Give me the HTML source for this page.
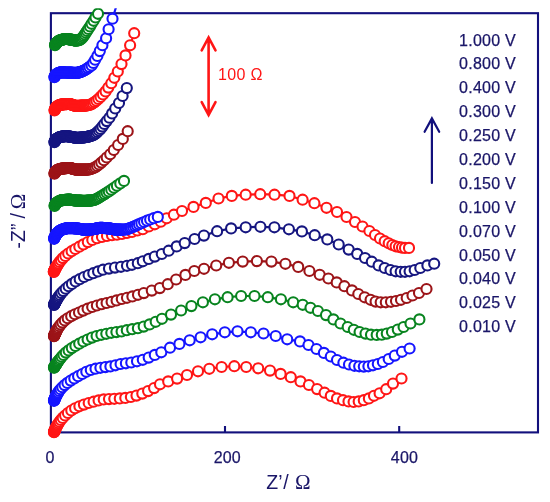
<!DOCTYPE html>
<html lang="en"><head><meta charset="utf-8"><title>Nyquist plots</title>
<style>
html,body{margin:0;padding:0;background:#fff;}
body{width:550px;height:502px;overflow:hidden;}
svg{display:block;}
text{font-family:"Liberation Sans",Arial,Helvetica,sans-serif;}
.ser{font-family:"Liberation Serif","Times New Roman",serif;}
</style></head><body>
<svg width="550" height="502" viewBox="0 0 550 502">
<rect width="550" height="502" fill="#fff"/>
<defs><clipPath id="cp"><rect x="0" y="8.2" width="550" height="494"/></clipPath></defs>

<g fill="none" stroke="#12107c" stroke-width="2.1">
<rect x="50.9" y="13.2" width="487.1" height="419.2"/>
<path d="M225 432.5V426M399.2 432.5V426"/>
</g>
<g clip-path="url(#cp)" fill="#fff" stroke-width="2.1">
<g stroke="#ff1616">
<polyline fill="none" stroke-width="2.2" points="54,432.2 54.1,431.9 54.2,431.6 54.3,431.3 54.5,431 54.6,430.6 54.8,430.3 54.9,429.9 55.1,429.5 55.3,429 55.5,428.6 55.8,428.1 56,427.6 56.3,427 56.7,426.4 57.1,425.5 57.7,424.5 58.5,423.3 59.5,421.8 60.8,420 62.7,417.9 65.1,415.5 67.9,413 71.3,410.5 75.1,408.3 79.4,406.3 83.9,404.6 88.7,403 93.6,401.7 98.6,400.4 103.7,399.4 109,399.1 114.3,398.8 119.8,398.4 125.3,397.9 130.9,397 136.5,395.6 142.3,393.6 148.1,391.1 154.1,388.1 160,384.3 168.2,381.4 177.1,378.6 187,375 198,371.3 209.3,368.8 221.6,367 234.3,366.2 246.2,367 258.2,368.3 270,370.6 280.6,373.9 290.8,377.2 300.5,381.4 308.9,385 317.1,389.1 324.6,392.7 330.8,395.9 337,398.4 343,400.2 348.5,401.4 353.6,402 358.7,401.4 363.8,400.2 368.9,398.4 374,395.8 379.6,393.3 386.2,389.2 393,383.6 401.5,378.5"/>
<circle cx="54" cy="432.2" r="5.05"/><circle cx="54.1" cy="431.9" r="5.05"/><circle cx="54.2" cy="431.6" r="5.05"/><circle cx="54.3" cy="431.3" r="5.05"/><circle cx="54.5" cy="431" r="5.05"/><circle cx="54.6" cy="430.6" r="5.05"/><circle cx="54.8" cy="430.3" r="5.05"/><circle cx="54.9" cy="429.9" r="5.05"/><circle cx="55.1" cy="429.5" r="5.05"/><circle cx="55.3" cy="429" r="5.05"/><circle cx="55.5" cy="428.6" r="5.05"/><circle cx="55.8" cy="428.1" r="5.05"/><circle cx="56" cy="427.6" r="5.05"/><circle cx="56.3" cy="427" r="5.05"/><circle cx="56.7" cy="426.4" r="5.05"/><circle cx="57.1" cy="425.5" r="5.05"/><circle cx="57.7" cy="424.5" r="5.05"/><circle cx="58.5" cy="423.3" r="5.05"/><circle cx="59.5" cy="421.8" r="5.05"/><circle cx="60.8" cy="420" r="5.05"/><circle cx="62.7" cy="417.9" r="5.05"/><circle cx="65.1" cy="415.5" r="5.05"/><circle cx="67.9" cy="413" r="5.05"/><circle cx="71.3" cy="410.5" r="5.05"/><circle cx="75.1" cy="408.3" r="5.05"/><circle cx="79.4" cy="406.3" r="5.05"/><circle cx="83.9" cy="404.6" r="5.05"/><circle cx="88.7" cy="403" r="5.05"/><circle cx="93.6" cy="401.7" r="5.05"/><circle cx="98.6" cy="400.4" r="5.05"/><circle cx="103.7" cy="399.4" r="5.05"/><circle cx="109" cy="399.1" r="5.05"/><circle cx="114.3" cy="398.8" r="5.05"/><circle cx="119.8" cy="398.4" r="5.05"/><circle cx="125.3" cy="397.9" r="5.05"/><circle cx="130.9" cy="397" r="5.05"/><circle cx="136.5" cy="395.6" r="5.05"/><circle cx="142.3" cy="393.6" r="5.05"/><circle cx="148.1" cy="391.1" r="5.05"/><circle cx="154.1" cy="388.1" r="5.05"/><circle cx="160" cy="384.3" r="5.05"/><circle cx="168.2" cy="381.4" r="5.05"/><circle cx="177.1" cy="378.6" r="5.05"/><circle cx="187" cy="375" r="5.05"/><circle cx="198" cy="371.3" r="5.05"/><circle cx="209.3" cy="368.8" r="5.05"/><circle cx="221.6" cy="367" r="5.05"/><circle cx="234.3" cy="366.2" r="5.05"/><circle cx="246.2" cy="367" r="5.05"/><circle cx="258.2" cy="368.3" r="5.05"/><circle cx="270" cy="370.6" r="5.05"/><circle cx="280.6" cy="373.9" r="5.05"/><circle cx="290.8" cy="377.2" r="5.05"/><circle cx="300.5" cy="381.4" r="5.05"/><circle cx="308.9" cy="385" r="5.05"/><circle cx="317.1" cy="389.1" r="5.05"/><circle cx="324.6" cy="392.7" r="5.05"/><circle cx="330.8" cy="395.9" r="5.05"/><circle cx="337" cy="398.4" r="5.05"/><circle cx="343" cy="400.2" r="5.05"/><circle cx="348.5" cy="401.4" r="5.05"/><circle cx="353.6" cy="402" r="5.05"/><circle cx="358.7" cy="401.4" r="5.05"/><circle cx="363.8" cy="400.2" r="5.05"/><circle cx="368.9" cy="398.4" r="5.05"/><circle cx="374" cy="395.8" r="5.05"/><circle cx="379.6" cy="393.3" r="5.05"/><circle cx="386.2" cy="389.2" r="5.05"/><circle cx="393" cy="383.6" r="5.05"/><circle cx="401.5" cy="378.5" r="5.05"/>
</g>
<g stroke="#1616ff">
<polyline fill="none" stroke-width="2.2" points="54,400.8 54.1,400.5 54.2,400.2 54.3,400 54.4,399.6 54.6,399.3 54.7,399 54.9,398.6 55,398.2 55.2,397.8 55.4,397.3 55.6,396.9 55.9,396.4 56.1,395.9 56.5,395.2 56.9,394.5 57.5,393.5 58.2,392.4 59.2,390.9 60.5,389.3 62.3,387.3 64.6,385.1 67.4,382.9 70.7,380.6 74.3,378.4 78.1,376.2 82.2,374 86.3,371.8 90.8,370 95.5,368.7 100.4,367.8 105.4,367.1 110.4,366.4 115.5,365.3 120.6,364 125.9,363.3 131.3,362.5 137,361.3 142.8,359.8 148.7,357.6 154.8,354.9 161.3,352.3 170,347.7 179.4,343.9 189.7,340.3 200.6,337.3 212.2,334.3 224.8,332.3 237.5,331.3 250.8,332.3 263.5,333.5 275.7,336 287.2,339.3 300,341.4 308.5,345 316.5,349 323.9,352.9 330.8,356.5 337,360 343.4,362.7 349,364.5 354.4,365.8 359.2,366.3 363.8,366.6 368.4,366.3 373,365.3 377.8,364 382.9,362 388.7,359 394.8,355.6 402,351.8 409.6,348.5"/>
<circle cx="54" cy="400.8" r="5.05"/><circle cx="54.1" cy="400.5" r="5.05"/><circle cx="54.2" cy="400.2" r="5.05"/><circle cx="54.3" cy="400" r="5.05"/><circle cx="54.4" cy="399.6" r="5.05"/><circle cx="54.6" cy="399.3" r="5.05"/><circle cx="54.7" cy="399" r="5.05"/><circle cx="54.9" cy="398.6" r="5.05"/><circle cx="55" cy="398.2" r="5.05"/><circle cx="55.2" cy="397.8" r="5.05"/><circle cx="55.4" cy="397.3" r="5.05"/><circle cx="55.6" cy="396.9" r="5.05"/><circle cx="55.9" cy="396.4" r="5.05"/><circle cx="56.1" cy="395.9" r="5.05"/><circle cx="56.5" cy="395.2" r="5.05"/><circle cx="56.9" cy="394.5" r="5.05"/><circle cx="57.5" cy="393.5" r="5.05"/><circle cx="58.2" cy="392.4" r="5.05"/><circle cx="59.2" cy="390.9" r="5.05"/><circle cx="60.5" cy="389.3" r="5.05"/><circle cx="62.3" cy="387.3" r="5.05"/><circle cx="64.6" cy="385.1" r="5.05"/><circle cx="67.4" cy="382.9" r="5.05"/><circle cx="70.7" cy="380.6" r="5.05"/><circle cx="74.3" cy="378.4" r="5.05"/><circle cx="78.1" cy="376.2" r="5.05"/><circle cx="82.2" cy="374" r="5.05"/><circle cx="86.3" cy="371.8" r="5.05"/><circle cx="90.8" cy="370" r="5.05"/><circle cx="95.5" cy="368.7" r="5.05"/><circle cx="100.4" cy="367.8" r="5.05"/><circle cx="105.4" cy="367.1" r="5.05"/><circle cx="110.4" cy="366.4" r="5.05"/><circle cx="115.5" cy="365.3" r="5.05"/><circle cx="120.6" cy="364" r="5.05"/><circle cx="125.9" cy="363.3" r="5.05"/><circle cx="131.3" cy="362.5" r="5.05"/><circle cx="137" cy="361.3" r="5.05"/><circle cx="142.8" cy="359.8" r="5.05"/><circle cx="148.7" cy="357.6" r="5.05"/><circle cx="154.8" cy="354.9" r="5.05"/><circle cx="161.3" cy="352.3" r="5.05"/><circle cx="170" cy="347.7" r="5.05"/><circle cx="179.4" cy="343.9" r="5.05"/><circle cx="189.7" cy="340.3" r="5.05"/><circle cx="200.6" cy="337.3" r="5.05"/><circle cx="212.2" cy="334.3" r="5.05"/><circle cx="224.8" cy="332.3" r="5.05"/><circle cx="237.5" cy="331.3" r="5.05"/><circle cx="250.8" cy="332.3" r="5.05"/><circle cx="263.5" cy="333.5" r="5.05"/><circle cx="275.7" cy="336" r="5.05"/><circle cx="287.2" cy="339.3" r="5.05"/><circle cx="300" cy="341.4" r="5.05"/><circle cx="308.5" cy="345" r="5.05"/><circle cx="316.5" cy="349" r="5.05"/><circle cx="323.9" cy="352.9" r="5.05"/><circle cx="330.8" cy="356.5" r="5.05"/><circle cx="337" cy="360" r="5.05"/><circle cx="343.4" cy="362.7" r="5.05"/><circle cx="349" cy="364.5" r="5.05"/><circle cx="354.4" cy="365.8" r="5.05"/><circle cx="359.2" cy="366.3" r="5.05"/><circle cx="363.8" cy="366.6" r="5.05"/><circle cx="368.4" cy="366.3" r="5.05"/><circle cx="373" cy="365.3" r="5.05"/><circle cx="377.8" cy="364" r="5.05"/><circle cx="382.9" cy="362" r="5.05"/><circle cx="388.7" cy="359" r="5.05"/><circle cx="394.8" cy="355.6" r="5.05"/><circle cx="402" cy="351.8" r="5.05"/><circle cx="409.6" cy="348.5" r="5.05"/>
</g>
<g stroke="#08841f">
<polyline fill="none" stroke-width="2.2" points="54,367.6 54.1,367.4 54.3,367.1 54.5,366.8 54.6,366.5 54.8,366.2 55,365.9 55.2,365.6 55.5,365.2 55.7,364.8 56,364.4 56.3,364 56.6,363.6 56.9,363.1 57.3,362.5 57.8,361.8 58.5,360.9 59.3,359.8 60.4,358.5 61.7,356.8 63.5,354.9 65.8,352.6 68.6,350.4 71.8,348.1 75.4,345.9 79.2,343.7 83.3,341.5 87.6,339.5 92,337.6 96.6,336 101.4,334.8 106.3,333.8 111.3,332.8 116.4,332.1 121.6,331.4 126.8,330.2 132.2,329.2 137.9,328.2 143.7,326.6 149.6,324.4 155.7,321.8 162,318.8 171,314.6 181.1,310.5 191.4,306.1 202.9,302.3 214.9,299.3 227.6,297.2 241.1,296 254.5,296 267.8,297.2 280.9,299.3 293.2,302.3 302.7,304.8 310.5,307.8 317.9,311 326,315.1 333.4,319.4 340.5,323.5 347.7,327 353.8,329.8 359.6,332 365.5,333.6 371,334.7 376.7,334.9 381.8,334.7 386.8,333.6 392,332 397.8,329.6 403.6,327 410.5,323.5 419.4,319.4"/>
<circle cx="54" cy="367.6" r="5.05"/><circle cx="54.1" cy="367.4" r="5.05"/><circle cx="54.3" cy="367.1" r="5.05"/><circle cx="54.5" cy="366.8" r="5.05"/><circle cx="54.6" cy="366.5" r="5.05"/><circle cx="54.8" cy="366.2" r="5.05"/><circle cx="55" cy="365.9" r="5.05"/><circle cx="55.2" cy="365.6" r="5.05"/><circle cx="55.5" cy="365.2" r="5.05"/><circle cx="55.7" cy="364.8" r="5.05"/><circle cx="56" cy="364.4" r="5.05"/><circle cx="56.3" cy="364" r="5.05"/><circle cx="56.6" cy="363.6" r="5.05"/><circle cx="56.9" cy="363.1" r="5.05"/><circle cx="57.3" cy="362.5" r="5.05"/><circle cx="57.8" cy="361.8" r="5.05"/><circle cx="58.5" cy="360.9" r="5.05"/><circle cx="59.3" cy="359.8" r="5.05"/><circle cx="60.4" cy="358.5" r="5.05"/><circle cx="61.7" cy="356.8" r="5.05"/><circle cx="63.5" cy="354.9" r="5.05"/><circle cx="65.8" cy="352.6" r="5.05"/><circle cx="68.6" cy="350.4" r="5.05"/><circle cx="71.8" cy="348.1" r="5.05"/><circle cx="75.4" cy="345.9" r="5.05"/><circle cx="79.2" cy="343.7" r="5.05"/><circle cx="83.3" cy="341.5" r="5.05"/><circle cx="87.6" cy="339.5" r="5.05"/><circle cx="92" cy="337.6" r="5.05"/><circle cx="96.6" cy="336" r="5.05"/><circle cx="101.4" cy="334.8" r="5.05"/><circle cx="106.3" cy="333.8" r="5.05"/><circle cx="111.3" cy="332.8" r="5.05"/><circle cx="116.4" cy="332.1" r="5.05"/><circle cx="121.6" cy="331.4" r="5.05"/><circle cx="126.8" cy="330.2" r="5.05"/><circle cx="132.2" cy="329.2" r="5.05"/><circle cx="137.9" cy="328.2" r="5.05"/><circle cx="143.7" cy="326.6" r="5.05"/><circle cx="149.6" cy="324.4" r="5.05"/><circle cx="155.7" cy="321.8" r="5.05"/><circle cx="162" cy="318.8" r="5.05"/><circle cx="171" cy="314.6" r="5.05"/><circle cx="181.1" cy="310.5" r="5.05"/><circle cx="191.4" cy="306.1" r="5.05"/><circle cx="202.9" cy="302.3" r="5.05"/><circle cx="214.9" cy="299.3" r="5.05"/><circle cx="227.6" cy="297.2" r="5.05"/><circle cx="241.1" cy="296" r="5.05"/><circle cx="254.5" cy="296" r="5.05"/><circle cx="267.8" cy="297.2" r="5.05"/><circle cx="280.9" cy="299.3" r="5.05"/><circle cx="293.2" cy="302.3" r="5.05"/><circle cx="302.7" cy="304.8" r="5.05"/><circle cx="310.5" cy="307.8" r="5.05"/><circle cx="317.9" cy="311" r="5.05"/><circle cx="326" cy="315.1" r="5.05"/><circle cx="333.4" cy="319.4" r="5.05"/><circle cx="340.5" cy="323.5" r="5.05"/><circle cx="347.7" cy="327" r="5.05"/><circle cx="353.8" cy="329.8" r="5.05"/><circle cx="359.6" cy="332" r="5.05"/><circle cx="365.5" cy="333.6" r="5.05"/><circle cx="371" cy="334.7" r="5.05"/><circle cx="376.7" cy="334.9" r="5.05"/><circle cx="381.8" cy="334.7" r="5.05"/><circle cx="386.8" cy="333.6" r="5.05"/><circle cx="392" cy="332" r="5.05"/><circle cx="397.8" cy="329.6" r="5.05"/><circle cx="403.6" cy="327" r="5.05"/><circle cx="410.5" cy="323.5" r="5.05"/><circle cx="419.4" cy="319.4" r="5.05"/>
</g>
<g stroke="#9c1418">
<polyline fill="none" stroke-width="2.2" points="54,336.2 54.1,335.9 54.2,335.6 54.3,335.3 54.4,335 54.6,334.7 54.7,334.3 54.9,334 55.1,333.6 55.3,333.2 55.5,332.7 55.7,332.3 55.9,331.8 56.2,331.3 56.6,330.6 57,329.8 57.6,328.9 58.3,327.7 59.3,326.3 60.6,324.6 62.4,322.6 64.8,320.4 67.7,318.3 71.2,316.2 74.9,314.3 79,312.5 83.2,310.6 87.6,308.7 92.2,307 96.9,305.5 101.7,304.2 106.6,303 111.6,301.8 116.6,300.4 121.8,299 127,297.8 132.4,296.4 138,294.8 143.8,293.1 151.8,290.6 159.8,288.1 167.8,284.2 176.1,279.5 185.4,274.9 194.3,271 204,268.8 216.2,265.5 228.9,262.8 242.7,261.6 256.9,261.1 271.4,261.6 285.4,263.8 298.2,266.9 309.4,271 319.7,274.8 328.4,278.5 336.7,282.4 344.4,286.2 352,290.4 358.3,294 364.7,297.3 370.6,299.8 375.6,301.6 380.7,302.3 385.8,302.3 391,301.8 396,301 401,299.8 406.7,298 412.5,295.5 419,293 426.5,289"/>
<circle cx="54" cy="336.2" r="5.05"/><circle cx="54.1" cy="335.9" r="5.05"/><circle cx="54.2" cy="335.6" r="5.05"/><circle cx="54.3" cy="335.3" r="5.05"/><circle cx="54.4" cy="335" r="5.05"/><circle cx="54.6" cy="334.7" r="5.05"/><circle cx="54.7" cy="334.3" r="5.05"/><circle cx="54.9" cy="334" r="5.05"/><circle cx="55.1" cy="333.6" r="5.05"/><circle cx="55.3" cy="333.2" r="5.05"/><circle cx="55.5" cy="332.7" r="5.05"/><circle cx="55.7" cy="332.3" r="5.05"/><circle cx="55.9" cy="331.8" r="5.05"/><circle cx="56.2" cy="331.3" r="5.05"/><circle cx="56.6" cy="330.6" r="5.05"/><circle cx="57" cy="329.8" r="5.05"/><circle cx="57.6" cy="328.9" r="5.05"/><circle cx="58.3" cy="327.7" r="5.05"/><circle cx="59.3" cy="326.3" r="5.05"/><circle cx="60.6" cy="324.6" r="5.05"/><circle cx="62.4" cy="322.6" r="5.05"/><circle cx="64.8" cy="320.4" r="5.05"/><circle cx="67.7" cy="318.3" r="5.05"/><circle cx="71.2" cy="316.2" r="5.05"/><circle cx="74.9" cy="314.3" r="5.05"/><circle cx="79" cy="312.5" r="5.05"/><circle cx="83.2" cy="310.6" r="5.05"/><circle cx="87.6" cy="308.7" r="5.05"/><circle cx="92.2" cy="307" r="5.05"/><circle cx="96.9" cy="305.5" r="5.05"/><circle cx="101.7" cy="304.2" r="5.05"/><circle cx="106.6" cy="303" r="5.05"/><circle cx="111.6" cy="301.8" r="5.05"/><circle cx="116.6" cy="300.4" r="5.05"/><circle cx="121.8" cy="299" r="5.05"/><circle cx="127" cy="297.8" r="5.05"/><circle cx="132.4" cy="296.4" r="5.05"/><circle cx="138" cy="294.8" r="5.05"/><circle cx="143.8" cy="293.1" r="5.05"/><circle cx="151.8" cy="290.6" r="5.05"/><circle cx="159.8" cy="288.1" r="5.05"/><circle cx="167.8" cy="284.2" r="5.05"/><circle cx="176.1" cy="279.5" r="5.05"/><circle cx="185.4" cy="274.9" r="5.05"/><circle cx="194.3" cy="271" r="5.05"/><circle cx="204" cy="268.8" r="5.05"/><circle cx="216.2" cy="265.5" r="5.05"/><circle cx="228.9" cy="262.8" r="5.05"/><circle cx="242.7" cy="261.6" r="5.05"/><circle cx="256.9" cy="261.1" r="5.05"/><circle cx="271.4" cy="261.6" r="5.05"/><circle cx="285.4" cy="263.8" r="5.05"/><circle cx="298.2" cy="266.9" r="5.05"/><circle cx="309.4" cy="271" r="5.05"/><circle cx="319.7" cy="274.8" r="5.05"/><circle cx="328.4" cy="278.5" r="5.05"/><circle cx="336.7" cy="282.4" r="5.05"/><circle cx="344.4" cy="286.2" r="5.05"/><circle cx="352" cy="290.4" r="5.05"/><circle cx="358.3" cy="294" r="5.05"/><circle cx="364.7" cy="297.3" r="5.05"/><circle cx="370.6" cy="299.8" r="5.05"/><circle cx="375.6" cy="301.6" r="5.05"/><circle cx="380.7" cy="302.3" r="5.05"/><circle cx="385.8" cy="302.3" r="5.05"/><circle cx="391" cy="301.8" r="5.05"/><circle cx="396" cy="301" r="5.05"/><circle cx="401" cy="299.8" r="5.05"/><circle cx="406.7" cy="298" r="5.05"/><circle cx="412.5" cy="295.5" r="5.05"/><circle cx="419" cy="293" r="5.05"/><circle cx="426.5" cy="289" r="5.05"/>
</g>
<g stroke="#161680">
<polyline fill="none" stroke-width="2.2" points="54,304.9 54.1,304.6 54.3,304.3 54.4,304 54.5,303.7 54.7,303.4 54.9,303 55.1,302.6 55.3,302.2 55.5,301.8 55.7,301.4 56,300.9 56.3,300.4 56.6,299.9 57,299.3 57.5,298.5 58.1,297.5 58.9,296.3 60,294.9 61.4,293.1 63.3,291.1 65.7,288.7 68.6,286.3 71.9,283.9 75.6,281.4 79.7,279.2 84,277 88.6,275 93.3,273.2 98.1,271.4 103,269.7 109,268.6 115,267.6 121,266.8 127,265.8 132,264.8 137.8,263.2 142.8,261.3 148.8,258.9 154.8,256.6 161.8,254 168.7,250.7 176.7,246.4 184.7,243.1 194.6,239 203.9,235.6 217.1,231.2 231.1,228.4 245.7,227.3 260.4,226.8 274.4,227.3 288.9,229.3 301.9,231.4 314.7,235.2 327.3,239.4 338.7,244.5 348.7,249.6 357.2,253.9 365,258 371.8,261.7 378.6,265.4 384.7,268 390.5,270 395.6,271.3 400.7,271.8 405,271.8 409.6,271.3 414.7,270 420.3,268 427.4,265.4 434.2,263.7"/>
<circle cx="54" cy="304.9" r="5.05"/><circle cx="54.1" cy="304.6" r="5.05"/><circle cx="54.3" cy="304.3" r="5.05"/><circle cx="54.4" cy="304" r="5.05"/><circle cx="54.5" cy="303.7" r="5.05"/><circle cx="54.7" cy="303.4" r="5.05"/><circle cx="54.9" cy="303" r="5.05"/><circle cx="55.1" cy="302.6" r="5.05"/><circle cx="55.3" cy="302.2" r="5.05"/><circle cx="55.5" cy="301.8" r="5.05"/><circle cx="55.7" cy="301.4" r="5.05"/><circle cx="56" cy="300.9" r="5.05"/><circle cx="56.3" cy="300.4" r="5.05"/><circle cx="56.6" cy="299.9" r="5.05"/><circle cx="57" cy="299.3" r="5.05"/><circle cx="57.5" cy="298.5" r="5.05"/><circle cx="58.1" cy="297.5" r="5.05"/><circle cx="58.9" cy="296.3" r="5.05"/><circle cx="60" cy="294.9" r="5.05"/><circle cx="61.4" cy="293.1" r="5.05"/><circle cx="63.3" cy="291.1" r="5.05"/><circle cx="65.7" cy="288.7" r="5.05"/><circle cx="68.6" cy="286.3" r="5.05"/><circle cx="71.9" cy="283.9" r="5.05"/><circle cx="75.6" cy="281.4" r="5.05"/><circle cx="79.7" cy="279.2" r="5.05"/><circle cx="84" cy="277" r="5.05"/><circle cx="88.6" cy="275" r="5.05"/><circle cx="93.3" cy="273.2" r="5.05"/><circle cx="98.1" cy="271.4" r="5.05"/><circle cx="103" cy="269.7" r="5.05"/><circle cx="109" cy="268.6" r="5.05"/><circle cx="115" cy="267.6" r="5.05"/><circle cx="121" cy="266.8" r="5.05"/><circle cx="127" cy="265.8" r="5.05"/><circle cx="132" cy="264.8" r="5.05"/><circle cx="137.8" cy="263.2" r="5.05"/><circle cx="142.8" cy="261.3" r="5.05"/><circle cx="148.8" cy="258.9" r="5.05"/><circle cx="154.8" cy="256.6" r="5.05"/><circle cx="161.8" cy="254" r="5.05"/><circle cx="168.7" cy="250.7" r="5.05"/><circle cx="176.7" cy="246.4" r="5.05"/><circle cx="184.7" cy="243.1" r="5.05"/><circle cx="194.6" cy="239" r="5.05"/><circle cx="203.9" cy="235.6" r="5.05"/><circle cx="217.1" cy="231.2" r="5.05"/><circle cx="231.1" cy="228.4" r="5.05"/><circle cx="245.7" cy="227.3" r="5.05"/><circle cx="260.4" cy="226.8" r="5.05"/><circle cx="274.4" cy="227.3" r="5.05"/><circle cx="288.9" cy="229.3" r="5.05"/><circle cx="301.9" cy="231.4" r="5.05"/><circle cx="314.7" cy="235.2" r="5.05"/><circle cx="327.3" cy="239.4" r="5.05"/><circle cx="338.7" cy="244.5" r="5.05"/><circle cx="348.7" cy="249.6" r="5.05"/><circle cx="357.2" cy="253.9" r="5.05"/><circle cx="365" cy="258" r="5.05"/><circle cx="371.8" cy="261.7" r="5.05"/><circle cx="378.6" cy="265.4" r="5.05"/><circle cx="384.7" cy="268" r="5.05"/><circle cx="390.5" cy="270" r="5.05"/><circle cx="395.6" cy="271.3" r="5.05"/><circle cx="400.7" cy="271.8" r="5.05"/><circle cx="405" cy="271.8" r="5.05"/><circle cx="409.6" cy="271.3" r="5.05"/><circle cx="414.7" cy="270" r="5.05"/><circle cx="420.3" cy="268" r="5.05"/><circle cx="427.4" cy="265.4" r="5.05"/><circle cx="434.2" cy="263.7" r="5.05"/>
</g>
<g stroke="#ff1616">
<polyline fill="none" stroke-width="2.2" points="53.8,271.9 53.9,271.6 54,271.3 54.2,271 54.3,270.7 54.5,270.4 54.6,270 54.8,269.7 55,269.3 55.2,268.8 55.5,268.4 55.7,267.9 56,267.5 56.3,266.9 56.7,266.3 57.2,265.5 57.8,264.5 58.6,263.4 59.6,261.9 61,260.2 62.9,258.1 65.3,255.9 68.2,253.5 71.6,251.2 75.3,249 79.3,246.7 83.4,244.4 87.8,242.1 92.3,239.9 97.1,238.2 102,236.9 107,235.9 112,235.2 117,234.7 122,234 127,233 132,231.9 137.5,230.4 142.8,229.2 148.8,226.5 154.8,224.3 160.8,221.7 166.7,218.3 173.9,214.7 182,211 193.5,206.9 205.8,202.9 218.5,198.5 231.8,195.9 245.7,194.7 260.2,194.2 274.5,194.7 289.5,195.9 302.6,199.7 314.4,203.2 326.5,207.8 337,212 346.5,217 355,222 362.5,226.5 369.4,231 375,235 380,238.5 384.7,241.2 388.7,243.3 392.3,245 395.6,246.3 399,247 402,247.6 405,247.9 409,247.9"/>
<circle cx="53.8" cy="271.9" r="5.05"/><circle cx="53.9" cy="271.6" r="5.05"/><circle cx="54" cy="271.3" r="5.05"/><circle cx="54.2" cy="271" r="5.05"/><circle cx="54.3" cy="270.7" r="5.05"/><circle cx="54.5" cy="270.4" r="5.05"/><circle cx="54.6" cy="270" r="5.05"/><circle cx="54.8" cy="269.7" r="5.05"/><circle cx="55" cy="269.3" r="5.05"/><circle cx="55.2" cy="268.8" r="5.05"/><circle cx="55.5" cy="268.4" r="5.05"/><circle cx="55.7" cy="267.9" r="5.05"/><circle cx="56" cy="267.5" r="5.05"/><circle cx="56.3" cy="266.9" r="5.05"/><circle cx="56.7" cy="266.3" r="5.05"/><circle cx="57.2" cy="265.5" r="5.05"/><circle cx="57.8" cy="264.5" r="5.05"/><circle cx="58.6" cy="263.4" r="5.05"/><circle cx="59.6" cy="261.9" r="5.05"/><circle cx="61" cy="260.2" r="5.05"/><circle cx="62.9" cy="258.1" r="5.05"/><circle cx="65.3" cy="255.9" r="5.05"/><circle cx="68.2" cy="253.5" r="5.05"/><circle cx="71.6" cy="251.2" r="5.05"/><circle cx="75.3" cy="249" r="5.05"/><circle cx="79.3" cy="246.7" r="5.05"/><circle cx="83.4" cy="244.4" r="5.05"/><circle cx="87.8" cy="242.1" r="5.05"/><circle cx="92.3" cy="239.9" r="5.05"/><circle cx="97.1" cy="238.2" r="5.05"/><circle cx="102" cy="236.9" r="5.05"/><circle cx="107" cy="235.9" r="5.05"/><circle cx="112" cy="235.2" r="5.05"/><circle cx="117" cy="234.7" r="5.05"/><circle cx="122" cy="234" r="5.05"/><circle cx="127" cy="233" r="5.05"/><circle cx="132" cy="231.9" r="5.05"/><circle cx="137.5" cy="230.4" r="5.05"/><circle cx="142.8" cy="229.2" r="5.05"/><circle cx="148.8" cy="226.5" r="5.05"/><circle cx="154.8" cy="224.3" r="5.05"/><circle cx="160.8" cy="221.7" r="5.05"/><circle cx="166.7" cy="218.3" r="5.05"/><circle cx="173.9" cy="214.7" r="5.05"/><circle cx="182" cy="211" r="5.05"/><circle cx="193.5" cy="206.9" r="5.05"/><circle cx="205.8" cy="202.9" r="5.05"/><circle cx="218.5" cy="198.5" r="5.05"/><circle cx="231.8" cy="195.9" r="5.05"/><circle cx="245.7" cy="194.7" r="5.05"/><circle cx="260.2" cy="194.2" r="5.05"/><circle cx="274.5" cy="194.7" r="5.05"/><circle cx="289.5" cy="195.9" r="5.05"/><circle cx="302.6" cy="199.7" r="5.05"/><circle cx="314.4" cy="203.2" r="5.05"/><circle cx="326.5" cy="207.8" r="5.05"/><circle cx="337" cy="212" r="5.05"/><circle cx="346.5" cy="217" r="5.05"/><circle cx="355" cy="222" r="5.05"/><circle cx="362.5" cy="226.5" r="5.05"/><circle cx="369.4" cy="231" r="5.05"/><circle cx="375" cy="235" r="5.05"/><circle cx="380" cy="238.5" r="5.05"/><circle cx="384.7" cy="241.2" r="5.05"/><circle cx="388.7" cy="243.3" r="5.05"/><circle cx="392.3" cy="245" r="5.05"/><circle cx="395.6" cy="246.3" r="5.05"/><circle cx="399" cy="247" r="5.05"/><circle cx="402" cy="247.6" r="5.05"/><circle cx="405" cy="247.9" r="5.05"/><circle cx="409" cy="247.9" r="5.05"/>
</g>
<g stroke="#1616ff">
<polyline fill="none" stroke-width="2.2" points="54.1,238.8 54.2,238.4 54.4,237.9 54.6,237.4 54.8,237 55,236.5 55.3,236.1 55.5,235.7 55.8,235.2 56,234.8 56.3,234.4 56.6,234 56.9,233.6 57.2,233.2 57.6,232.8 57.9,232.5 58.2,232.1 58.6,231.8 59,231.4 59.4,231.1 59.8,230.8 60.2,230.5 60.6,230.3 61.1,230.1 61.5,229.9 62,229.7 62.4,229.5 62.9,229.3 63.4,229.2 63.9,229 64.3,228.9 64.8,228.7 65.3,228.6 65.8,228.5 66.3,228.4 66.8,228.3 67.3,228.2 67.8,228.2 68.3,228.1 68.8,228.1 69.3,228.1 69.8,228.1 70.3,228.1 70.8,228.1 71.3,228.1 71.8,228.2 72.3,228.2 72.8,228.2 73.3,228.2 73.8,228.3 74.3,228.3 74.8,228.3 75.3,228.4 75.8,228.4 76.3,228.4 76.8,228.5 77.3,228.5 77.7,228.6 78.2,228.6 78.7,228.7 79.2,228.8 79.7,228.9 80.2,229 80.7,229.1 81.2,229.2 81.7,229.3 82.2,229.4 82.7,229.5 83.2,229.6 83.7,229.6 84.2,229.7 84.7,229.7 85.2,229.7 85.7,229.7 86.2,229.7 86.7,229.6 87.2,229.6 87.7,229.6 88.1,229.6 88.6,229.5 89.1,229.5 89.6,229.5 90.1,229.4 90.6,229.4 91.1,229.4 91.6,229.3 92.1,229.3 92.6,229.2 93.1,229.2 93.6,229.1 94.1,229 94.6,228.9 95.1,228.8 95.6,228.7 96.1,228.6 96.6,228.5 97.1,228.4 97.5,228.3 98,228.2 98.5,228.1 99,228 99.5,227.9 100,227.9 100.5,227.9 101,227.9 101.5,227.9 102,227.9 102.5,227.9 103,227.9 103.5,228 104,228 104.5,228 105,228.1 105.5,228.1 106,228.1 106.5,228.2 107,228.2 107.5,228.3 108,228.3 108.5,228.4 109,228.4 109.5,228.5 110,228.6 110.5,228.6 111,228.7 111.5,228.8 111.9,228.9 112.4,229 112.9,229.1 113.4,229.2 113.9,229.3 114.4,229.4 114.9,229.5 115.4,229.5 115.9,229.6 116.4,229.6 116.9,229.6 117.4,229.6 117.9,229.6 118.4,229.6 118.9,229.6 119.4,229.6 120,229.6 120.6,229.6 121.3,229.6 122.1,229.6 122.9,229.6 123.9,229.5 124.9,229.5 126,229.4 127.2,229.1 128.5,228.7 129.9,228.1 131.4,227.5 133.1,226.9 134.9,226.1 136.9,225.2 139,224.2 141.4,223.2 144.1,222 147,220.7 150.2,219.5 153.8,218.2 157.8,216.9"/>
<circle cx="54.1" cy="238.8" r="5.05"/><circle cx="54.2" cy="238.4" r="5.05"/><circle cx="54.4" cy="237.9" r="5.05"/><circle cx="54.6" cy="237.4" r="5.05"/><circle cx="54.8" cy="237" r="5.05"/><circle cx="55" cy="236.5" r="5.05"/><circle cx="55.3" cy="236.1" r="5.05"/><circle cx="55.5" cy="235.7" r="5.05"/><circle cx="55.8" cy="235.2" r="5.05"/><circle cx="56" cy="234.8" r="5.05"/><circle cx="56.3" cy="234.4" r="5.05"/><circle cx="56.6" cy="234" r="5.05"/><circle cx="56.9" cy="233.6" r="5.05"/><circle cx="57.2" cy="233.2" r="5.05"/><circle cx="57.6" cy="232.8" r="5.05"/><circle cx="57.9" cy="232.5" r="5.05"/><circle cx="58.2" cy="232.1" r="5.05"/><circle cx="58.6" cy="231.8" r="5.05"/><circle cx="59" cy="231.4" r="5.05"/><circle cx="59.4" cy="231.1" r="5.05"/><circle cx="59.8" cy="230.8" r="5.05"/><circle cx="60.2" cy="230.5" r="5.05"/><circle cx="60.6" cy="230.3" r="5.05"/><circle cx="61.1" cy="230.1" r="5.05"/><circle cx="61.5" cy="229.9" r="5.05"/><circle cx="62" cy="229.7" r="5.05"/><circle cx="62.4" cy="229.5" r="5.05"/><circle cx="62.9" cy="229.3" r="5.05"/><circle cx="63.4" cy="229.2" r="5.05"/><circle cx="63.9" cy="229" r="5.05"/><circle cx="64.3" cy="228.9" r="5.05"/><circle cx="64.8" cy="228.7" r="5.05"/><circle cx="65.3" cy="228.6" r="5.05"/><circle cx="65.8" cy="228.5" r="5.05"/><circle cx="66.3" cy="228.4" r="5.05"/><circle cx="66.8" cy="228.3" r="5.05"/><circle cx="67.3" cy="228.2" r="5.05"/><circle cx="67.8" cy="228.2" r="5.05"/><circle cx="68.3" cy="228.1" r="5.05"/><circle cx="68.8" cy="228.1" r="5.05"/><circle cx="69.3" cy="228.1" r="5.05"/><circle cx="69.8" cy="228.1" r="5.05"/><circle cx="70.3" cy="228.1" r="5.05"/><circle cx="70.8" cy="228.1" r="5.05"/><circle cx="71.3" cy="228.1" r="5.05"/><circle cx="71.8" cy="228.2" r="5.05"/><circle cx="72.3" cy="228.2" r="5.05"/><circle cx="72.8" cy="228.2" r="5.05"/><circle cx="73.3" cy="228.2" r="5.05"/><circle cx="73.8" cy="228.3" r="5.05"/><circle cx="74.3" cy="228.3" r="5.05"/><circle cx="74.8" cy="228.3" r="5.05"/><circle cx="75.3" cy="228.4" r="5.05"/><circle cx="75.8" cy="228.4" r="5.05"/><circle cx="76.3" cy="228.4" r="5.05"/><circle cx="76.8" cy="228.5" r="5.05"/><circle cx="77.3" cy="228.5" r="5.05"/><circle cx="77.7" cy="228.6" r="5.05"/><circle cx="78.2" cy="228.6" r="5.05"/><circle cx="78.7" cy="228.7" r="5.05"/><circle cx="79.2" cy="228.8" r="5.05"/><circle cx="79.7" cy="228.9" r="5.05"/><circle cx="80.2" cy="229" r="5.05"/><circle cx="80.7" cy="229.1" r="5.05"/><circle cx="81.2" cy="229.2" r="5.05"/><circle cx="81.7" cy="229.3" r="5.05"/><circle cx="82.2" cy="229.4" r="5.05"/><circle cx="82.7" cy="229.5" r="5.05"/><circle cx="83.2" cy="229.6" r="5.05"/><circle cx="83.7" cy="229.6" r="5.05"/><circle cx="84.2" cy="229.7" r="5.05"/><circle cx="84.7" cy="229.7" r="5.05"/><circle cx="85.2" cy="229.7" r="5.05"/><circle cx="85.7" cy="229.7" r="5.05"/><circle cx="86.2" cy="229.7" r="5.05"/><circle cx="86.7" cy="229.6" r="5.05"/><circle cx="87.2" cy="229.6" r="5.05"/><circle cx="87.7" cy="229.6" r="5.05"/><circle cx="88.1" cy="229.6" r="5.05"/><circle cx="88.6" cy="229.5" r="5.05"/><circle cx="89.1" cy="229.5" r="5.05"/><circle cx="89.6" cy="229.5" r="5.05"/><circle cx="90.1" cy="229.4" r="5.05"/><circle cx="90.6" cy="229.4" r="5.05"/><circle cx="91.1" cy="229.4" r="5.05"/><circle cx="91.6" cy="229.3" r="5.05"/><circle cx="92.1" cy="229.3" r="5.05"/><circle cx="92.6" cy="229.2" r="5.05"/><circle cx="93.1" cy="229.2" r="5.05"/><circle cx="93.6" cy="229.1" r="5.05"/><circle cx="94.1" cy="229" r="5.05"/><circle cx="94.6" cy="228.9" r="5.05"/><circle cx="95.1" cy="228.8" r="5.05"/><circle cx="95.6" cy="228.7" r="5.05"/><circle cx="96.1" cy="228.6" r="5.05"/><circle cx="96.6" cy="228.5" r="5.05"/><circle cx="97.1" cy="228.4" r="5.05"/><circle cx="97.5" cy="228.3" r="5.05"/><circle cx="98" cy="228.2" r="5.05"/><circle cx="98.5" cy="228.1" r="5.05"/><circle cx="99" cy="228" r="5.05"/><circle cx="99.5" cy="227.9" r="5.05"/><circle cx="100" cy="227.9" r="5.05"/><circle cx="100.5" cy="227.9" r="5.05"/><circle cx="101" cy="227.9" r="5.05"/><circle cx="101.5" cy="227.9" r="5.05"/><circle cx="102" cy="227.9" r="5.05"/><circle cx="102.5" cy="227.9" r="5.05"/><circle cx="103" cy="227.9" r="5.05"/><circle cx="103.5" cy="228" r="5.05"/><circle cx="104" cy="228" r="5.05"/><circle cx="104.5" cy="228" r="5.05"/><circle cx="105" cy="228.1" r="5.05"/><circle cx="105.5" cy="228.1" r="5.05"/><circle cx="106" cy="228.1" r="5.05"/><circle cx="106.5" cy="228.2" r="5.05"/><circle cx="107" cy="228.2" r="5.05"/><circle cx="107.5" cy="228.3" r="5.05"/><circle cx="108" cy="228.3" r="5.05"/><circle cx="108.5" cy="228.4" r="5.05"/><circle cx="109" cy="228.4" r="5.05"/><circle cx="109.5" cy="228.5" r="5.05"/><circle cx="110" cy="228.6" r="5.05"/><circle cx="110.5" cy="228.6" r="5.05"/><circle cx="111" cy="228.7" r="5.05"/><circle cx="111.5" cy="228.8" r="5.05"/><circle cx="111.9" cy="228.9" r="5.05"/><circle cx="112.4" cy="229" r="5.05"/><circle cx="112.9" cy="229.1" r="5.05"/><circle cx="113.4" cy="229.2" r="5.05"/><circle cx="113.9" cy="229.3" r="5.05"/><circle cx="114.4" cy="229.4" r="5.05"/><circle cx="114.9" cy="229.5" r="5.05"/><circle cx="115.4" cy="229.5" r="5.05"/><circle cx="115.9" cy="229.6" r="5.05"/><circle cx="116.4" cy="229.6" r="5.05"/><circle cx="116.9" cy="229.6" r="5.05"/><circle cx="117.4" cy="229.6" r="5.05"/><circle cx="117.9" cy="229.6" r="5.05"/><circle cx="118.4" cy="229.6" r="5.05"/><circle cx="118.9" cy="229.6" r="5.05"/><circle cx="119.4" cy="229.6" r="5.05"/><circle cx="120" cy="229.6" r="5.05"/><circle cx="120.6" cy="229.6" r="5.05"/><circle cx="121.3" cy="229.6" r="5.05"/><circle cx="122.1" cy="229.6" r="5.05"/><circle cx="122.9" cy="229.6" r="5.05"/><circle cx="123.9" cy="229.5" r="5.05"/><circle cx="124.9" cy="229.5" r="5.05"/><circle cx="126" cy="229.4" r="5.05"/><circle cx="127.2" cy="229.1" r="5.05"/><circle cx="128.5" cy="228.7" r="5.05"/><circle cx="129.9" cy="228.1" r="5.05"/><circle cx="131.4" cy="227.5" r="5.05"/><circle cx="133.1" cy="226.9" r="5.05"/><circle cx="134.9" cy="226.1" r="5.05"/><circle cx="136.9" cy="225.2" r="5.05"/><circle cx="139" cy="224.2" r="5.05"/><circle cx="141.4" cy="223.2" r="5.05"/><circle cx="144.1" cy="222" r="5.05"/><circle cx="147" cy="220.7" r="5.05"/><circle cx="150.2" cy="219.5" r="5.05"/><circle cx="153.8" cy="218.2" r="5.05"/><circle cx="157.8" cy="216.9" r="5.05"/>
</g>
<g stroke="#08841f">
<polyline fill="none" stroke-width="2.2" points="54.5,205.9 54.8,205.5 55,205 55.2,204.6 55.5,204.2 55.8,203.8 56.1,203.4 56.5,203 56.8,202.7 57.2,202.3 57.6,202 58,201.8 58.4,201.5 58.9,201.3 59.3,201 59.8,200.8 60.2,200.7 60.7,200.5 61.2,200.4 61.7,200.2 62.2,200.2 62.7,200.1 63.2,200.1 63.7,200 64.2,200 64.7,199.9 65.2,199.9 65.7,199.8 66.2,199.8 66.7,199.8 67.2,199.7 67.7,199.7 68.2,199.7 68.7,199.7 69.2,199.7 69.7,199.7 70.2,199.7 70.7,199.8 71.2,199.8 71.7,199.9 72.1,200 72.6,200.1 73.1,200.1 73.6,200.2 74.1,200.3 74.6,200.4 75.1,200.4 75.6,200.5 76.1,200.5 76.6,200.6 77.1,200.6 77.6,200.6 78.1,200.6 78.6,200.7 79.1,200.7 79.6,200.7 80.1,200.7 80.6,200.7 81.1,200.7 81.6,200.8 82.1,200.8 82.6,200.8 83.1,200.8 83.6,200.8 84.1,200.8 84.6,200.8 85.1,200.8 85.6,200.8 86.1,200.8 86.6,200.8 87.1,200.7 87.6,200.7 88.1,200.7 88.6,200.7 89.1,200.6 89.6,200.6 90.1,200.6 90.7,200.5 91.4,200.4 92.2,200.3 93,200.2 93.9,200 94.9,199.7 95.9,199.3 97.1,198.7 98.3,198 99.6,197.2 101.1,196.3 102.8,195.3 104.6,194.1 106.6,192.8 108.8,191.4 111.3,189.7 114,187.8 116.9,185.7 120.3,183.4 124,180.9"/>
<circle cx="54.5" cy="205.9" r="5.05"/><circle cx="54.8" cy="205.5" r="5.05"/><circle cx="55" cy="205" r="5.05"/><circle cx="55.2" cy="204.6" r="5.05"/><circle cx="55.5" cy="204.2" r="5.05"/><circle cx="55.8" cy="203.8" r="5.05"/><circle cx="56.1" cy="203.4" r="5.05"/><circle cx="56.5" cy="203" r="5.05"/><circle cx="56.8" cy="202.7" r="5.05"/><circle cx="57.2" cy="202.3" r="5.05"/><circle cx="57.6" cy="202" r="5.05"/><circle cx="58" cy="201.8" r="5.05"/><circle cx="58.4" cy="201.5" r="5.05"/><circle cx="58.9" cy="201.3" r="5.05"/><circle cx="59.3" cy="201" r="5.05"/><circle cx="59.8" cy="200.8" r="5.05"/><circle cx="60.2" cy="200.7" r="5.05"/><circle cx="60.7" cy="200.5" r="5.05"/><circle cx="61.2" cy="200.4" r="5.05"/><circle cx="61.7" cy="200.2" r="5.05"/><circle cx="62.2" cy="200.2" r="5.05"/><circle cx="62.7" cy="200.1" r="5.05"/><circle cx="63.2" cy="200.1" r="5.05"/><circle cx="63.7" cy="200" r="5.05"/><circle cx="64.2" cy="200" r="5.05"/><circle cx="64.7" cy="199.9" r="5.05"/><circle cx="65.2" cy="199.9" r="5.05"/><circle cx="65.7" cy="199.8" r="5.05"/><circle cx="66.2" cy="199.8" r="5.05"/><circle cx="66.7" cy="199.8" r="5.05"/><circle cx="67.2" cy="199.7" r="5.05"/><circle cx="67.7" cy="199.7" r="5.05"/><circle cx="68.2" cy="199.7" r="5.05"/><circle cx="68.7" cy="199.7" r="5.05"/><circle cx="69.2" cy="199.7" r="5.05"/><circle cx="69.7" cy="199.7" r="5.05"/><circle cx="70.2" cy="199.7" r="5.05"/><circle cx="70.7" cy="199.8" r="5.05"/><circle cx="71.2" cy="199.8" r="5.05"/><circle cx="71.7" cy="199.9" r="5.05"/><circle cx="72.1" cy="200" r="5.05"/><circle cx="72.6" cy="200.1" r="5.05"/><circle cx="73.1" cy="200.1" r="5.05"/><circle cx="73.6" cy="200.2" r="5.05"/><circle cx="74.1" cy="200.3" r="5.05"/><circle cx="74.6" cy="200.4" r="5.05"/><circle cx="75.1" cy="200.4" r="5.05"/><circle cx="75.6" cy="200.5" r="5.05"/><circle cx="76.1" cy="200.5" r="5.05"/><circle cx="76.6" cy="200.6" r="5.05"/><circle cx="77.1" cy="200.6" r="5.05"/><circle cx="77.6" cy="200.6" r="5.05"/><circle cx="78.1" cy="200.6" r="5.05"/><circle cx="78.6" cy="200.7" r="5.05"/><circle cx="79.1" cy="200.7" r="5.05"/><circle cx="79.6" cy="200.7" r="5.05"/><circle cx="80.1" cy="200.7" r="5.05"/><circle cx="80.6" cy="200.7" r="5.05"/><circle cx="81.1" cy="200.7" r="5.05"/><circle cx="81.6" cy="200.8" r="5.05"/><circle cx="82.1" cy="200.8" r="5.05"/><circle cx="82.6" cy="200.8" r="5.05"/><circle cx="83.1" cy="200.8" r="5.05"/><circle cx="83.6" cy="200.8" r="5.05"/><circle cx="84.1" cy="200.8" r="5.05"/><circle cx="84.6" cy="200.8" r="5.05"/><circle cx="85.1" cy="200.8" r="5.05"/><circle cx="85.6" cy="200.8" r="5.05"/><circle cx="86.1" cy="200.8" r="5.05"/><circle cx="86.6" cy="200.8" r="5.05"/><circle cx="87.1" cy="200.7" r="5.05"/><circle cx="87.6" cy="200.7" r="5.05"/><circle cx="88.1" cy="200.7" r="5.05"/><circle cx="88.6" cy="200.7" r="5.05"/><circle cx="89.1" cy="200.6" r="5.05"/><circle cx="89.6" cy="200.6" r="5.05"/><circle cx="90.1" cy="200.6" r="5.05"/><circle cx="90.7" cy="200.5" r="5.05"/><circle cx="91.4" cy="200.4" r="5.05"/><circle cx="92.2" cy="200.3" r="5.05"/><circle cx="93" cy="200.2" r="5.05"/><circle cx="93.9" cy="200" r="5.05"/><circle cx="94.9" cy="199.7" r="5.05"/><circle cx="95.9" cy="199.3" r="5.05"/><circle cx="97.1" cy="198.7" r="5.05"/><circle cx="98.3" cy="198" r="5.05"/><circle cx="99.6" cy="197.2" r="5.05"/><circle cx="101.1" cy="196.3" r="5.05"/><circle cx="102.8" cy="195.3" r="5.05"/><circle cx="104.6" cy="194.1" r="5.05"/><circle cx="106.6" cy="192.8" r="5.05"/><circle cx="108.8" cy="191.4" r="5.05"/><circle cx="111.3" cy="189.7" r="5.05"/><circle cx="114" cy="187.8" r="5.05"/><circle cx="116.9" cy="185.7" r="5.05"/><circle cx="120.3" cy="183.4" r="5.05"/><circle cx="124" cy="180.9" r="5.05"/>
</g>
<g stroke="#9c1418">
<polyline fill="none" stroke-width="2.2" points="54.4,173.7 54.6,173.2 54.8,172.8 55.1,172.4 55.3,171.9 55.6,171.5 55.9,171.1 56.3,170.8 56.7,170.4 57.1,170.2 57.5,169.9 58,169.7 58.4,169.5 58.9,169.3 59.4,169.2 59.8,169 60.3,168.9 60.8,168.8 61.3,168.7 61.8,168.7 62.3,168.6 62.8,168.5 63.3,168.4 63.8,168.4 64.3,168.3 64.8,168.3 65.3,168.2 65.8,168.2 66.3,168.1 66.8,168.1 67.3,168 67.8,168 68.3,168 68.8,168 69.3,168 69.8,168 70.3,168.1 70.8,168.2 71.2,168.3 71.7,168.4 72.2,168.6 72.7,168.7 73.2,168.9 73.6,169 74.1,169.1 74.6,169.3 75.1,169.4 75.6,169.5 76.1,169.5 76.6,169.6 77.1,169.6 77.6,169.6 78.1,169.6 78.6,169.6 79.1,169.6 79.6,169.6 80.1,169.6 80.6,169.6 81.1,169.6 81.6,169.6 82.1,169.6 82.6,169.6 83.1,169.6 83.6,169.6 84.1,169.6 84.6,169.6 85.1,169.6 85.6,169.6 86.1,169.6 86.6,169.6 87.1,169.5 87.7,169.5 88.3,169.5 89.1,169.4 90,169.2 91.1,168.9 92.3,168.5 93.8,168 95.4,167.2 97.1,166 99.1,164.5 101.3,162.6 103.9,160.3 106.7,157.5 110.2,154.3 113.8,150 118.1,145 122.8,138.9 127.7,131.2"/>
<circle cx="54.4" cy="173.7" r="5.05"/><circle cx="54.6" cy="173.2" r="5.05"/><circle cx="54.8" cy="172.8" r="5.05"/><circle cx="55.1" cy="172.4" r="5.05"/><circle cx="55.3" cy="171.9" r="5.05"/><circle cx="55.6" cy="171.5" r="5.05"/><circle cx="55.9" cy="171.1" r="5.05"/><circle cx="56.3" cy="170.8" r="5.05"/><circle cx="56.7" cy="170.4" r="5.05"/><circle cx="57.1" cy="170.2" r="5.05"/><circle cx="57.5" cy="169.9" r="5.05"/><circle cx="58" cy="169.7" r="5.05"/><circle cx="58.4" cy="169.5" r="5.05"/><circle cx="58.9" cy="169.3" r="5.05"/><circle cx="59.4" cy="169.2" r="5.05"/><circle cx="59.8" cy="169" r="5.05"/><circle cx="60.3" cy="168.9" r="5.05"/><circle cx="60.8" cy="168.8" r="5.05"/><circle cx="61.3" cy="168.7" r="5.05"/><circle cx="61.8" cy="168.7" r="5.05"/><circle cx="62.3" cy="168.6" r="5.05"/><circle cx="62.8" cy="168.5" r="5.05"/><circle cx="63.3" cy="168.4" r="5.05"/><circle cx="63.8" cy="168.4" r="5.05"/><circle cx="64.3" cy="168.3" r="5.05"/><circle cx="64.8" cy="168.3" r="5.05"/><circle cx="65.3" cy="168.2" r="5.05"/><circle cx="65.8" cy="168.2" r="5.05"/><circle cx="66.3" cy="168.1" r="5.05"/><circle cx="66.8" cy="168.1" r="5.05"/><circle cx="67.3" cy="168" r="5.05"/><circle cx="67.8" cy="168" r="5.05"/><circle cx="68.3" cy="168" r="5.05"/><circle cx="68.8" cy="168" r="5.05"/><circle cx="69.3" cy="168" r="5.05"/><circle cx="69.8" cy="168" r="5.05"/><circle cx="70.3" cy="168.1" r="5.05"/><circle cx="70.8" cy="168.2" r="5.05"/><circle cx="71.2" cy="168.3" r="5.05"/><circle cx="71.7" cy="168.4" r="5.05"/><circle cx="72.2" cy="168.6" r="5.05"/><circle cx="72.7" cy="168.7" r="5.05"/><circle cx="73.2" cy="168.9" r="5.05"/><circle cx="73.6" cy="169" r="5.05"/><circle cx="74.1" cy="169.1" r="5.05"/><circle cx="74.6" cy="169.3" r="5.05"/><circle cx="75.1" cy="169.4" r="5.05"/><circle cx="75.6" cy="169.5" r="5.05"/><circle cx="76.1" cy="169.5" r="5.05"/><circle cx="76.6" cy="169.6" r="5.05"/><circle cx="77.1" cy="169.6" r="5.05"/><circle cx="77.6" cy="169.6" r="5.05"/><circle cx="78.1" cy="169.6" r="5.05"/><circle cx="78.6" cy="169.6" r="5.05"/><circle cx="79.1" cy="169.6" r="5.05"/><circle cx="79.6" cy="169.6" r="5.05"/><circle cx="80.1" cy="169.6" r="5.05"/><circle cx="80.6" cy="169.6" r="5.05"/><circle cx="81.1" cy="169.6" r="5.05"/><circle cx="81.6" cy="169.6" r="5.05"/><circle cx="82.1" cy="169.6" r="5.05"/><circle cx="82.6" cy="169.6" r="5.05"/><circle cx="83.1" cy="169.6" r="5.05"/><circle cx="83.6" cy="169.6" r="5.05"/><circle cx="84.1" cy="169.6" r="5.05"/><circle cx="84.6" cy="169.6" r="5.05"/><circle cx="85.1" cy="169.6" r="5.05"/><circle cx="85.6" cy="169.6" r="5.05"/><circle cx="86.1" cy="169.6" r="5.05"/><circle cx="86.6" cy="169.6" r="5.05"/><circle cx="87.1" cy="169.5" r="5.05"/><circle cx="87.7" cy="169.5" r="5.05"/><circle cx="88.3" cy="169.5" r="5.05"/><circle cx="89.1" cy="169.4" r="5.05"/><circle cx="90" cy="169.2" r="5.05"/><circle cx="91.1" cy="168.9" r="5.05"/><circle cx="92.3" cy="168.5" r="5.05"/><circle cx="93.8" cy="168" r="5.05"/><circle cx="95.4" cy="167.2" r="5.05"/><circle cx="97.1" cy="166" r="5.05"/><circle cx="99.1" cy="164.5" r="5.05"/><circle cx="101.3" cy="162.6" r="5.05"/><circle cx="103.9" cy="160.3" r="5.05"/><circle cx="106.7" cy="157.5" r="5.05"/><circle cx="110.2" cy="154.3" r="5.05"/><circle cx="113.8" cy="150" r="5.05"/><circle cx="118.1" cy="145" r="5.05"/><circle cx="122.8" cy="138.9" r="5.05"/><circle cx="127.7" cy="131.2" r="5.05"/>
</g>
<g stroke="#161680">
<polyline fill="none" stroke-width="2.2" points="54.4,142.2 54.6,141.7 54.8,141.3 55,140.8 55.3,140.4 55.6,140 55.9,139.6 56.2,139.2 56.6,138.9 56.9,138.5 57.4,138.3 57.8,138 58.2,137.8 58.7,137.5 59.1,137.4 59.6,137.2 60.1,137 60.6,136.9 61,136.8 61.5,136.7 62,136.6 62.5,136.5 63,136.4 63.5,136.4 64,136.3 64.5,136.3 65,136.2 65.5,136.2 66,136.2 66.5,136.2 67,136.2 67.5,136.3 68,136.3 68.5,136.4 69,136.5 69.5,136.6 70,136.7 70.5,136.7 71,136.8 71.5,136.9 71.9,137 72.4,137.1 72.9,137.2 73.4,137.3 73.9,137.4 74.4,137.5 74.9,137.6 75.4,137.7 75.9,137.7 76.4,137.8 76.9,137.8 77.4,137.8 77.9,137.8 78.4,137.8 78.9,137.8 79.4,137.7 79.9,137.7 80.4,137.7 80.9,137.6 81.4,137.6 81.9,137.5 82.4,137.5 82.9,137.4 83.4,137.4 83.9,137.3 84.3,137.3 84.8,137.2 85.3,137.1 85.8,137.1 86.3,137 86.8,136.9 87.3,136.8 87.8,136.7 88.3,136.6 88.8,136.5 89.3,136.3 90,136.2 90.7,136 91.6,135.7 92.5,135.4 93.6,135 94.8,134.3 96,133.3 97.4,132 98.9,130.5 100.6,128.9 102.4,126.6 104.3,124 106.7,121.1 109.4,117.7 112.1,113.4 115.2,108.5 119,103 122.6,96 126.8,88.1"/>
<circle cx="54.4" cy="142.2" r="5.05"/><circle cx="54.6" cy="141.7" r="5.05"/><circle cx="54.8" cy="141.3" r="5.05"/><circle cx="55" cy="140.8" r="5.05"/><circle cx="55.3" cy="140.4" r="5.05"/><circle cx="55.6" cy="140" r="5.05"/><circle cx="55.9" cy="139.6" r="5.05"/><circle cx="56.2" cy="139.2" r="5.05"/><circle cx="56.6" cy="138.9" r="5.05"/><circle cx="56.9" cy="138.5" r="5.05"/><circle cx="57.4" cy="138.3" r="5.05"/><circle cx="57.8" cy="138" r="5.05"/><circle cx="58.2" cy="137.8" r="5.05"/><circle cx="58.7" cy="137.5" r="5.05"/><circle cx="59.1" cy="137.4" r="5.05"/><circle cx="59.6" cy="137.2" r="5.05"/><circle cx="60.1" cy="137" r="5.05"/><circle cx="60.6" cy="136.9" r="5.05"/><circle cx="61" cy="136.8" r="5.05"/><circle cx="61.5" cy="136.7" r="5.05"/><circle cx="62" cy="136.6" r="5.05"/><circle cx="62.5" cy="136.5" r="5.05"/><circle cx="63" cy="136.4" r="5.05"/><circle cx="63.5" cy="136.4" r="5.05"/><circle cx="64" cy="136.3" r="5.05"/><circle cx="64.5" cy="136.3" r="5.05"/><circle cx="65" cy="136.2" r="5.05"/><circle cx="65.5" cy="136.2" r="5.05"/><circle cx="66" cy="136.2" r="5.05"/><circle cx="66.5" cy="136.2" r="5.05"/><circle cx="67" cy="136.2" r="5.05"/><circle cx="67.5" cy="136.3" r="5.05"/><circle cx="68" cy="136.3" r="5.05"/><circle cx="68.5" cy="136.4" r="5.05"/><circle cx="69" cy="136.5" r="5.05"/><circle cx="69.5" cy="136.6" r="5.05"/><circle cx="70" cy="136.7" r="5.05"/><circle cx="70.5" cy="136.7" r="5.05"/><circle cx="71" cy="136.8" r="5.05"/><circle cx="71.5" cy="136.9" r="5.05"/><circle cx="71.9" cy="137" r="5.05"/><circle cx="72.4" cy="137.1" r="5.05"/><circle cx="72.9" cy="137.2" r="5.05"/><circle cx="73.4" cy="137.3" r="5.05"/><circle cx="73.9" cy="137.4" r="5.05"/><circle cx="74.4" cy="137.5" r="5.05"/><circle cx="74.9" cy="137.6" r="5.05"/><circle cx="75.4" cy="137.7" r="5.05"/><circle cx="75.9" cy="137.7" r="5.05"/><circle cx="76.4" cy="137.8" r="5.05"/><circle cx="76.9" cy="137.8" r="5.05"/><circle cx="77.4" cy="137.8" r="5.05"/><circle cx="77.9" cy="137.8" r="5.05"/><circle cx="78.4" cy="137.8" r="5.05"/><circle cx="78.9" cy="137.8" r="5.05"/><circle cx="79.4" cy="137.7" r="5.05"/><circle cx="79.9" cy="137.7" r="5.05"/><circle cx="80.4" cy="137.7" r="5.05"/><circle cx="80.9" cy="137.6" r="5.05"/><circle cx="81.4" cy="137.6" r="5.05"/><circle cx="81.9" cy="137.5" r="5.05"/><circle cx="82.4" cy="137.5" r="5.05"/><circle cx="82.9" cy="137.4" r="5.05"/><circle cx="83.4" cy="137.4" r="5.05"/><circle cx="83.9" cy="137.3" r="5.05"/><circle cx="84.3" cy="137.3" r="5.05"/><circle cx="84.8" cy="137.2" r="5.05"/><circle cx="85.3" cy="137.1" r="5.05"/><circle cx="85.8" cy="137.1" r="5.05"/><circle cx="86.3" cy="137" r="5.05"/><circle cx="86.8" cy="136.9" r="5.05"/><circle cx="87.3" cy="136.8" r="5.05"/><circle cx="87.8" cy="136.7" r="5.05"/><circle cx="88.3" cy="136.6" r="5.05"/><circle cx="88.8" cy="136.5" r="5.05"/><circle cx="89.3" cy="136.3" r="5.05"/><circle cx="90" cy="136.2" r="5.05"/><circle cx="90.7" cy="136" r="5.05"/><circle cx="91.6" cy="135.7" r="5.05"/><circle cx="92.5" cy="135.4" r="5.05"/><circle cx="93.6" cy="135" r="5.05"/><circle cx="94.8" cy="134.3" r="5.05"/><circle cx="96" cy="133.3" r="5.05"/><circle cx="97.4" cy="132" r="5.05"/><circle cx="98.9" cy="130.5" r="5.05"/><circle cx="100.6" cy="128.9" r="5.05"/><circle cx="102.4" cy="126.6" r="5.05"/><circle cx="104.3" cy="124" r="5.05"/><circle cx="106.7" cy="121.1" r="5.05"/><circle cx="109.4" cy="117.7" r="5.05"/><circle cx="112.1" cy="113.4" r="5.05"/><circle cx="115.2" cy="108.5" r="5.05"/><circle cx="119" cy="103" r="5.05"/><circle cx="122.6" cy="96" r="5.05"/><circle cx="126.8" cy="88.1" r="5.05"/>
</g>
<g stroke="#ff1616">
<polyline fill="none" stroke-width="2.2" points="54.5,110.5 54.7,110 54.9,109.5 55.1,109.1 55.3,108.6 55.6,108.2 55.8,107.8 56.1,107.4 56.5,107 56.8,106.7 57.2,106.3 57.6,106 58,105.8 58.4,105.5 58.9,105.3 59.3,105.1 59.8,104.9 60.3,104.8 60.8,104.6 61.3,104.6 61.8,104.5 62.3,104.4 62.8,104.4 63.3,104.3 63.8,104.3 64.3,104.2 64.8,104.2 65.2,104.1 65.7,104.1 66.2,104.1 66.7,104.1 67.2,104 67.7,104 68.2,104 68.7,104 69.2,104 69.7,104.1 70.2,104.1 70.7,104.3 71.2,104.4 71.7,104.6 72.1,104.8 72.6,104.9 73.1,105.1 73.5,105.3 74,105.5 74.5,105.6 75,105.7 75.5,105.8 76,105.8 76.5,105.8 77,105.8 77.5,105.8 78,105.8 78.5,105.8 79,105.8 79.5,105.8 80,105.8 80.5,105.7 81,105.7 81.5,105.7 82,105.7 82.5,105.7 83,105.7 83.5,105.7 84,105.6 84.5,105.6 85,105.6 85.6,105.5 86.3,105.5 87.1,105.4 88,105.2 89.1,105 90.3,104.7 91.6,104.1 93,103.2 94.6,102.1 96.4,100.7 98.4,99 100.6,96.9 103,94.4 105.6,91.4 108.3,87.6 111.3,83.2 114.3,77.8 117.8,71.5 121.5,64.1 125.5,55.4 130.1,45.3 134.2,33.2"/>
<circle cx="54.5" cy="110.5" r="5.05"/><circle cx="54.7" cy="110" r="5.05"/><circle cx="54.9" cy="109.5" r="5.05"/><circle cx="55.1" cy="109.1" r="5.05"/><circle cx="55.3" cy="108.6" r="5.05"/><circle cx="55.6" cy="108.2" r="5.05"/><circle cx="55.8" cy="107.8" r="5.05"/><circle cx="56.1" cy="107.4" r="5.05"/><circle cx="56.5" cy="107" r="5.05"/><circle cx="56.8" cy="106.7" r="5.05"/><circle cx="57.2" cy="106.3" r="5.05"/><circle cx="57.6" cy="106" r="5.05"/><circle cx="58" cy="105.8" r="5.05"/><circle cx="58.4" cy="105.5" r="5.05"/><circle cx="58.9" cy="105.3" r="5.05"/><circle cx="59.3" cy="105.1" r="5.05"/><circle cx="59.8" cy="104.9" r="5.05"/><circle cx="60.3" cy="104.8" r="5.05"/><circle cx="60.8" cy="104.6" r="5.05"/><circle cx="61.3" cy="104.6" r="5.05"/><circle cx="61.8" cy="104.5" r="5.05"/><circle cx="62.3" cy="104.4" r="5.05"/><circle cx="62.8" cy="104.4" r="5.05"/><circle cx="63.3" cy="104.3" r="5.05"/><circle cx="63.8" cy="104.3" r="5.05"/><circle cx="64.3" cy="104.2" r="5.05"/><circle cx="64.8" cy="104.2" r="5.05"/><circle cx="65.2" cy="104.1" r="5.05"/><circle cx="65.7" cy="104.1" r="5.05"/><circle cx="66.2" cy="104.1" r="5.05"/><circle cx="66.7" cy="104.1" r="5.05"/><circle cx="67.2" cy="104" r="5.05"/><circle cx="67.7" cy="104" r="5.05"/><circle cx="68.2" cy="104" r="5.05"/><circle cx="68.7" cy="104" r="5.05"/><circle cx="69.2" cy="104" r="5.05"/><circle cx="69.7" cy="104.1" r="5.05"/><circle cx="70.2" cy="104.1" r="5.05"/><circle cx="70.7" cy="104.3" r="5.05"/><circle cx="71.2" cy="104.4" r="5.05"/><circle cx="71.7" cy="104.6" r="5.05"/><circle cx="72.1" cy="104.8" r="5.05"/><circle cx="72.6" cy="104.9" r="5.05"/><circle cx="73.1" cy="105.1" r="5.05"/><circle cx="73.5" cy="105.3" r="5.05"/><circle cx="74" cy="105.5" r="5.05"/><circle cx="74.5" cy="105.6" r="5.05"/><circle cx="75" cy="105.7" r="5.05"/><circle cx="75.5" cy="105.8" r="5.05"/><circle cx="76" cy="105.8" r="5.05"/><circle cx="76.5" cy="105.8" r="5.05"/><circle cx="77" cy="105.8" r="5.05"/><circle cx="77.5" cy="105.8" r="5.05"/><circle cx="78" cy="105.8" r="5.05"/><circle cx="78.5" cy="105.8" r="5.05"/><circle cx="79" cy="105.8" r="5.05"/><circle cx="79.5" cy="105.8" r="5.05"/><circle cx="80" cy="105.8" r="5.05"/><circle cx="80.5" cy="105.7" r="5.05"/><circle cx="81" cy="105.7" r="5.05"/><circle cx="81.5" cy="105.7" r="5.05"/><circle cx="82" cy="105.7" r="5.05"/><circle cx="82.5" cy="105.7" r="5.05"/><circle cx="83" cy="105.7" r="5.05"/><circle cx="83.5" cy="105.7" r="5.05"/><circle cx="84" cy="105.6" r="5.05"/><circle cx="84.5" cy="105.6" r="5.05"/><circle cx="85" cy="105.6" r="5.05"/><circle cx="85.6" cy="105.5" r="5.05"/><circle cx="86.3" cy="105.5" r="5.05"/><circle cx="87.1" cy="105.4" r="5.05"/><circle cx="88" cy="105.2" r="5.05"/><circle cx="89.1" cy="105" r="5.05"/><circle cx="90.3" cy="104.7" r="5.05"/><circle cx="91.6" cy="104.1" r="5.05"/><circle cx="93" cy="103.2" r="5.05"/><circle cx="94.6" cy="102.1" r="5.05"/><circle cx="96.4" cy="100.7" r="5.05"/><circle cx="98.4" cy="99" r="5.05"/><circle cx="100.6" cy="96.9" r="5.05"/><circle cx="103" cy="94.4" r="5.05"/><circle cx="105.6" cy="91.4" r="5.05"/><circle cx="108.3" cy="87.6" r="5.05"/><circle cx="111.3" cy="83.2" r="5.05"/><circle cx="114.3" cy="77.8" r="5.05"/><circle cx="117.8" cy="71.5" r="5.05"/><circle cx="121.5" cy="64.1" r="5.05"/><circle cx="125.5" cy="55.4" r="5.05"/><circle cx="130.1" cy="45.3" r="5.05"/><circle cx="134.2" cy="33.2" r="5.05"/>
</g>
<g stroke="#1616ff">
<polyline fill="none" stroke-width="2.2" points="54.4,77.2 54.6,76.7 54.8,76.3 55.1,75.8 55.4,75.4 55.7,75 56,74.7 56.3,74.3 56.7,74 57.1,73.7 57.6,73.5 58,73.2 58.5,73 58.9,72.8 59.4,72.7 59.9,72.5 60.4,72.4 60.9,72.4 61.4,72.4 61.9,72.4 62.4,72.4 62.9,72.4 63.4,72.4 63.9,72.4 64.4,72.5 64.9,72.5 65.4,72.5 65.9,72.5 66.4,72.5 66.9,72.5 67.4,72.5 67.9,72.6 68.4,72.6 68.9,72.6 69.4,72.6 69.9,72.6 70.4,72.7 70.9,72.7 71.4,72.7 71.9,72.7 72.4,72.8 72.9,72.8 73.4,72.8 73.9,72.8 74.4,72.9 74.9,72.9 75.4,72.9 75.9,72.9 76.4,72.9 76.9,72.8 77.4,72.8 77.9,72.7 78.3,72.6 78.8,72.5 79.3,72.3 79.8,72.2 80.3,72 80.7,71.9 81.2,71.7 81.8,71.5 82.4,71.3 83.2,70.9 84.1,70.5 85.1,69.9 86.4,69.2 87.8,68.1 89.5,66.9 91.6,65.4 93.3,62.9 95.1,59.7 97.4,55.9 99.8,51.1 102.4,45.2 106.1,38.3 108.6,29.3 112.5,18.7 117.6,2"/>
<circle cx="54.4" cy="77.2" r="5.05"/><circle cx="54.6" cy="76.7" r="5.05"/><circle cx="54.8" cy="76.3" r="5.05"/><circle cx="55.1" cy="75.8" r="5.05"/><circle cx="55.4" cy="75.4" r="5.05"/><circle cx="55.7" cy="75" r="5.05"/><circle cx="56" cy="74.7" r="5.05"/><circle cx="56.3" cy="74.3" r="5.05"/><circle cx="56.7" cy="74" r="5.05"/><circle cx="57.1" cy="73.7" r="5.05"/><circle cx="57.6" cy="73.5" r="5.05"/><circle cx="58" cy="73.2" r="5.05"/><circle cx="58.5" cy="73" r="5.05"/><circle cx="58.9" cy="72.8" r="5.05"/><circle cx="59.4" cy="72.7" r="5.05"/><circle cx="59.9" cy="72.5" r="5.05"/><circle cx="60.4" cy="72.4" r="5.05"/><circle cx="60.9" cy="72.4" r="5.05"/><circle cx="61.4" cy="72.4" r="5.05"/><circle cx="61.9" cy="72.4" r="5.05"/><circle cx="62.4" cy="72.4" r="5.05"/><circle cx="62.9" cy="72.4" r="5.05"/><circle cx="63.4" cy="72.4" r="5.05"/><circle cx="63.9" cy="72.4" r="5.05"/><circle cx="64.4" cy="72.5" r="5.05"/><circle cx="64.9" cy="72.5" r="5.05"/><circle cx="65.4" cy="72.5" r="5.05"/><circle cx="65.9" cy="72.5" r="5.05"/><circle cx="66.4" cy="72.5" r="5.05"/><circle cx="66.9" cy="72.5" r="5.05"/><circle cx="67.4" cy="72.5" r="5.05"/><circle cx="67.9" cy="72.6" r="5.05"/><circle cx="68.4" cy="72.6" r="5.05"/><circle cx="68.9" cy="72.6" r="5.05"/><circle cx="69.4" cy="72.6" r="5.05"/><circle cx="69.9" cy="72.6" r="5.05"/><circle cx="70.4" cy="72.7" r="5.05"/><circle cx="70.9" cy="72.7" r="5.05"/><circle cx="71.4" cy="72.7" r="5.05"/><circle cx="71.9" cy="72.7" r="5.05"/><circle cx="72.4" cy="72.8" r="5.05"/><circle cx="72.9" cy="72.8" r="5.05"/><circle cx="73.4" cy="72.8" r="5.05"/><circle cx="73.9" cy="72.8" r="5.05"/><circle cx="74.4" cy="72.9" r="5.05"/><circle cx="74.9" cy="72.9" r="5.05"/><circle cx="75.4" cy="72.9" r="5.05"/><circle cx="75.9" cy="72.9" r="5.05"/><circle cx="76.4" cy="72.9" r="5.05"/><circle cx="76.9" cy="72.8" r="5.05"/><circle cx="77.4" cy="72.8" r="5.05"/><circle cx="77.9" cy="72.7" r="5.05"/><circle cx="78.3" cy="72.6" r="5.05"/><circle cx="78.8" cy="72.5" r="5.05"/><circle cx="79.3" cy="72.3" r="5.05"/><circle cx="79.8" cy="72.2" r="5.05"/><circle cx="80.3" cy="72" r="5.05"/><circle cx="80.7" cy="71.9" r="5.05"/><circle cx="81.2" cy="71.7" r="5.05"/><circle cx="81.8" cy="71.5" r="5.05"/><circle cx="82.4" cy="71.3" r="5.05"/><circle cx="83.2" cy="70.9" r="5.05"/><circle cx="84.1" cy="70.5" r="5.05"/><circle cx="85.1" cy="69.9" r="5.05"/><circle cx="86.4" cy="69.2" r="5.05"/><circle cx="87.8" cy="68.1" r="5.05"/><circle cx="89.5" cy="66.9" r="5.05"/><circle cx="91.6" cy="65.4" r="5.05"/><circle cx="93.3" cy="62.9" r="5.05"/><circle cx="95.1" cy="59.7" r="5.05"/><circle cx="97.4" cy="55.9" r="5.05"/><circle cx="99.8" cy="51.1" r="5.05"/><circle cx="102.4" cy="45.2" r="5.05"/><circle cx="106.1" cy="38.3" r="5.05"/><circle cx="108.6" cy="29.3" r="5.05"/><circle cx="112.5" cy="18.7" r="5.05"/>
</g>
<g stroke="#08841f">
<polyline fill="none" stroke-width="2.2" points="55,45.2 55.2,44.8 55.5,44.3 55.7,43.9 56,43.5 56.3,43.1 56.6,42.7 56.9,42.3 57.3,42 57.7,41.7 58.1,41.4 58.5,41.1 58.9,40.9 59.4,40.6 59.8,40.4 60.3,40.2 60.8,40.1 61.3,39.9 61.7,39.8 62.2,39.6 62.7,39.5 63.2,39.4 63.7,39.3 64.2,39.2 64.7,39.1 65.2,39 65.7,39 66.2,39 66.7,39 67.2,39 67.6,39.1 68.1,39.2 68.6,39.2 69.1,39.3 69.6,39.4 70.1,39.5 70.6,39.6 71.1,39.6 71.6,39.7 72.1,39.8 72.6,39.9 73.1,40 73.5,40.2 74,40.3 74.5,40.4 75,40.5 75.6,40.6 76.3,40.6 77,40.5 77.9,40.4 78.8,40.2 79.8,39.9 80.7,39.3 81.7,38.4 82.7,37.3 83.7,36 84.7,34.5 85.8,32.8 87,31 88.4,28.9 90,26.5 91.6,23.8 93.6,20.8 95.5,17.4 98,13.8"/>
<circle cx="55" cy="45.2" r="5.05"/><circle cx="55.2" cy="44.8" r="5.05"/><circle cx="55.5" cy="44.3" r="5.05"/><circle cx="55.7" cy="43.9" r="5.05"/><circle cx="56" cy="43.5" r="5.05"/><circle cx="56.3" cy="43.1" r="5.05"/><circle cx="56.6" cy="42.7" r="5.05"/><circle cx="56.9" cy="42.3" r="5.05"/><circle cx="57.3" cy="42" r="5.05"/><circle cx="57.7" cy="41.7" r="5.05"/><circle cx="58.1" cy="41.4" r="5.05"/><circle cx="58.5" cy="41.1" r="5.05"/><circle cx="58.9" cy="40.9" r="5.05"/><circle cx="59.4" cy="40.6" r="5.05"/><circle cx="59.8" cy="40.4" r="5.05"/><circle cx="60.3" cy="40.2" r="5.05"/><circle cx="60.8" cy="40.1" r="5.05"/><circle cx="61.3" cy="39.9" r="5.05"/><circle cx="61.7" cy="39.8" r="5.05"/><circle cx="62.2" cy="39.6" r="5.05"/><circle cx="62.7" cy="39.5" r="5.05"/><circle cx="63.2" cy="39.4" r="5.05"/><circle cx="63.7" cy="39.3" r="5.05"/><circle cx="64.2" cy="39.2" r="5.05"/><circle cx="64.7" cy="39.1" r="5.05"/><circle cx="65.2" cy="39" r="5.05"/><circle cx="65.7" cy="39" r="5.05"/><circle cx="66.2" cy="39" r="5.05"/><circle cx="66.7" cy="39" r="5.05"/><circle cx="67.2" cy="39" r="5.05"/><circle cx="67.6" cy="39.1" r="5.05"/><circle cx="68.1" cy="39.2" r="5.05"/><circle cx="68.6" cy="39.2" r="5.05"/><circle cx="69.1" cy="39.3" r="5.05"/><circle cx="69.6" cy="39.4" r="5.05"/><circle cx="70.1" cy="39.5" r="5.05"/><circle cx="70.6" cy="39.6" r="5.05"/><circle cx="71.1" cy="39.6" r="5.05"/><circle cx="71.6" cy="39.7" r="5.05"/><circle cx="72.1" cy="39.8" r="5.05"/><circle cx="72.6" cy="39.9" r="5.05"/><circle cx="73.1" cy="40" r="5.05"/><circle cx="73.5" cy="40.2" r="5.05"/><circle cx="74" cy="40.3" r="5.05"/><circle cx="74.5" cy="40.4" r="5.05"/><circle cx="75" cy="40.5" r="5.05"/><circle cx="75.6" cy="40.6" r="5.05"/><circle cx="76.3" cy="40.6" r="5.05"/><circle cx="77" cy="40.5" r="5.05"/><circle cx="77.9" cy="40.4" r="5.05"/><circle cx="78.8" cy="40.2" r="5.05"/><circle cx="79.8" cy="39.9" r="5.05"/><circle cx="80.7" cy="39.3" r="5.05"/><circle cx="81.7" cy="38.4" r="5.05"/><circle cx="82.7" cy="37.3" r="5.05"/><circle cx="83.7" cy="36" r="5.05"/><circle cx="84.7" cy="34.5" r="5.05"/><circle cx="85.8" cy="32.8" r="5.05"/><circle cx="87" cy="31" r="5.05"/><circle cx="88.4" cy="28.9" r="5.05"/><circle cx="90" cy="26.5" r="5.05"/><circle cx="91.6" cy="23.8" r="5.05"/><circle cx="93.6" cy="20.8" r="5.05"/><circle cx="95.5" cy="17.4" r="5.05"/><circle cx="98" cy="13.8" r="5.05"/>
</g>
</g>
<g fill="none" stroke="#ff1616" stroke-width="2.6" stroke-linecap="round" stroke-linejoin="miter">
<path d="M208.6 39V113.5M201.7 50.3L208.6 37.5L215.5 50.3M201.7 102.2L208.6 115L215.5 102.2"/>
</g>
<text x="218" y="79.6" font-size="16" letter-spacing="0.35" fill="#ff1616">100 Ω</text>
<g fill="none" stroke="#12107c" stroke-width="2.2" stroke-linecap="round" stroke-linejoin="miter">
<path d="M431.9 120V183M424.6 131.8L431.9 118.4L439.2 131.8"/>
</g>
<g font-size="16" letter-spacing="0.25" fill="#1a1668" stroke="#1a1668" stroke-width="0.25">
<text x="459.1" y="45.5">1.000 V</text>
<text x="459.1" y="69.4">0.800 V</text>
<text x="459.1" y="93.3">0.400 V</text>
<text x="459.1" y="117.2">0.300 V</text>
<text x="459.1" y="141.1">0.250 V</text>
<text x="459.1" y="164.9">0.200 V</text>
<text x="459.1" y="188.8">0.150 V</text>
<text x="459.1" y="212.7">0.100 V</text>
<text x="459.1" y="236.6">0.070 V</text>
<text x="459.1" y="260.5">0.050 V</text>
<text x="459.1" y="284.4">0.040 V</text>
<text x="459.1" y="308.3">0.025 V</text>
<text x="459.1" y="332.2">0.010 V</text>
</g>
<g font-size="16" letter-spacing="0.2" fill="#1a1668" stroke="#1a1668" stroke-width="0.25" text-anchor="middle">
<text x="50" y="462.9">0</text><text x="227.3" y="462.9">200</text><text x="404.5" y="462.9">400</text>
</g>
<text y="489.3" font-size="19.5" fill="#1a1668"><tspan x="266.3">Z’</tspan> <tspan x="283.3">/</tspan> <tspan x="294.9" class="ser" font-size="21">Ω</tspan></text>
<text transform="translate(25 248.4) rotate(-90)" font-size="19.5" fill="#1a1668"><tspan x="0">-Z”</tspan> <tspan x="29.8">/</tspan> <tspan x="39.2" class="ser" font-size="21">Ω</tspan></text>
</svg></body></html>
